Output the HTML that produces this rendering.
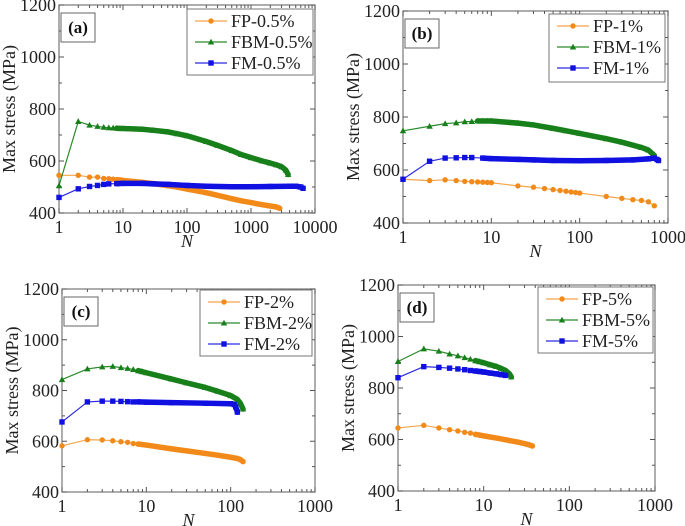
<!DOCTYPE html>
<html><head><meta charset="utf-8"><style>
html,body{margin:0;padding:0;background:#fff;}
svg{display:block;}
svg text{font-family:"Liberation Serif","Times New Roman",serif;}
</style></head><body>
<svg id="chart" width="685" height="526" viewBox="0 0 685 526"></svg>
<script>
// ---- data ----
const aFP_N=[1,2,3,4,5,6,7,8,9,10,20,30,50,70,100,200,300,500,700,1000,1500,2000,2500,2800];
const aFP_V=[545,545,538,538,533,532,530,528,527,525,518,513,505,500,492,478,468,455,447,440,432,427,423,418];
const aFBM_N=[1,2,3,4,5,6,7,8,9,10,20,30,50,70,100,200,300,500,700,1000,1500,2000,2500,3000,3500,3800];
const aFBM_V=[505,752,738,733,730,728,727,726,725,725,722,718,712,705,697,675,660,640,625,613,600,592,585,578,565,548];
const aFM_N=[1,2,3,4,5,6,8,10,20,30,50,100,200,500,1000,2000,4000,5000,6000,6500];
const aFM_V=[460,493,502,506,510,512,513,514,514,512,510,506,503,501,501,502,503,503,500,495];

const bFP_N=[1,2,3,4,5,6,7,8,9,10,20,30,40,50,60,70,80,90,100,200,300,400,500,600,700];
const bFP_V=[565,560,563,560,557,556,555,554,553,552,540,535,530,526,523,520,517,515,513,500,493,488,485,480,465];
const bFBM_N=[1,2,3,4,5,6,7,8,9,10,20,30,50,70,100,200,300,500,600,700];
const bFBM_V=[748,765,775,778,782,783,785,785,785,785,777,770,757,748,738,718,705,685,675,655];
const bFM_N=[1,2,3,4,5,6,8,10,20,30,50,100,200,400,600,700,750,780];
const bFM_V=[565,633,645,646,647,647,645,643,640,638,636,635,636,638,642,645,640,636];

const cFP_N=[1,2,3,4,5,6,7,8,9,10,20,30,50,70,100,120,130,140];
const cFP_V=[582,606,605,602,598,596,591,589,587,585,570,562,552,545,537,532,528,520];
const cFBM_N=[1,2,3,4,5,6,7,8,9,10,20,30,50,70,100,120,130,140];
const cFBM_V=[843,885,893,895,890,887,883,878,874,870,845,830,812,797,780,765,750,727];
const cFM_N=[1,2,3,4,5,6,7,8,10,20,50,100,110,115,120];
const cFM_V=[676,755,758,758,757,756,755,755,754,752,750,748,745,735,715];

const dFP_N=[1,2,3,4,5,6,7,8,9,10,15,20,25,30,35,37];
const dFP_V=[645,655,645,638,633,628,625,620,617,614,604,596,590,584,578,575];
const dFBM_N=[1,2,3,4,5,6,7,8,9,10,12,14,16,18,20,21];
const dFBM_V=[903,952,943,932,925,918,912,906,902,898,890,884,876,868,855,843];
const dFM_N=[1,2,3,4,5,6,7,8,9,10,12,14,16,18];
const dFM_V=[840,883,880,877,874,871,868,866,864,862,858,855,852,849];

const yTicks=[400,600,800,1000,1200];
const xTicksA=[1,10,100,1000,10000];
const xTicksB=[1,10,100,1000];
const namesA=["FP-0.5%","FBM-0.5%","FM-0.5%"];
const namesB=["FP-1%","FBM-1%","FM-1%"];
const namesC=["FP-2%","FBM-2%","FM-2%"];
const namesD=["FP-5%","FBM-5%","FM-5%"];

// ---- drawing ----
const NS="http://www.w3.org/2000/svg";
const svg=document.getElementById('chart');
function mk(tag,attrs,parent){const e=document.createElementNS(NS,tag);for(const k in attrs)e.setAttribute(k,attrs[k]);(parent||svg).appendChild(e);return e;}
const COL={fp:{line:"#f5a54a",mk:"#f28a1a"},fbm:{line:"#2a8a2a",mk:"#18801a"},fm:{line:"#2a2ae0",mk:"#1010e0"}};
const FONT='"Liberation Serif","Times New Roman",serif';

function marker(g,kind,x,y,c){
  let e;
  if(kind==='fp'){e=mk('circle',{cx:x,cy:y,r:2.7,fill:c},g);}
  else if(kind==='fbm'){e=mk('polygon',{points:`${x},${y-3.3} ${x-3.2},${y+2.5} ${x+3.2},${y+2.5}`,fill:c},g);}
  else {e=mk('rect',{x:x-2.7,y:y-2.7,width:5.4,height:5.4,fill:c},g);}
  
  
}
function txt(g,attrs,s,name){
  attrs['font-family']=FONT;
  const t=mk('text',attrs,g);t.textContent=s;
  return t;
}

function panel(p){
  const g=mk('g',{});
  
  
  const decs=Math.log10(p.xmax);
  const X=n=>p.L+(p.R-p.L)*Math.log10(n)/decs;
  const Y=v=>p.B-(p.B-p.T)*(v-400)/800;
  const fr=mk('rect',{x:p.L,y:p.T,width:p.R-p.L,height:p.B-p.T,fill:'none',stroke:'#777','stroke-width':1.2},g);
  
  yTicks.forEach(v=>{
    const y=Y(v);
    mk('line',{x1:p.L,x2:p.L+5,y1:y,y2:y,stroke:'#555'},g);
    mk('line',{x1:p.R,x2:p.R-5,y1:y,y2:y,stroke:'#555'},g);
    txt(g,{x:p.L-3,y:y+6,'text-anchor':'end','font-size':18,fill:'#222'},v,'y-tick-label');
    if(v<1200){const ym=Y(v+100);
      mk('line',{x1:p.L,x2:p.L+3,y1:ym,y2:ym,stroke:'#555'},g);
      mk('line',{x1:p.R,x2:p.R-3,y1:ym,y2:ym,stroke:'#555'},g);}
  });
  p.xt.forEach((n,i)=>{
    const x=X(n);
    mk('line',{x1:x,x2:x,y1:p.B,y2:p.B-5,stroke:'#555'},g);
    mk('line',{x1:x,x2:x,y1:p.T,y2:p.T+5,stroke:'#555'},g);
    txt(g,{x:x,y:p.B+20,'text-anchor':'middle','font-size':18,fill:'#222'},n,'x-tick-label');
    if(i<p.xt.length-1){for(let k=2;k<10;k++){const xm=X(n*k);
      mk('line',{x1:xm,x2:xm,y1:p.B,y2:p.B-3,stroke:'#555'},g);
      mk('line',{x1:xm,x2:xm,y1:p.T,y2:p.T+3,stroke:'#555'},g);}}
  });
  txt(g,{x:(p.L+p.R)/2,y:p.B+34,'text-anchor':'middle','font-size':18,'font-style':'italic',fill:'#222'},'N','x-axis-title');
  const yx=p.L-44,yy=(p.T+p.B)/2;
  txt(g,{x:yx,y:yy,'text-anchor':'middle','font-size':18,fill:'#222',transform:`rotate(-90 ${yx} ${yy})`},'Max stress (MPa)','y-axis-title');
  const lb=mk('rect',{x:p.L+2,y:p.T+8,width:34,height:29,fill:'#fff',stroke:'#666','stroke-width':1},g);
  
  txt(g,{x:p.L+19,y:p.T+28,'text-anchor':'middle','font-size':17,'font-weight':'bold',fill:'#111'},'('+p.id+')','panel-label');
  p.series.forEach(s=>{
    const pts=s.N.map((n,i)=>X(n)+','+Y(s.V[i])).join(' ');
    const pl=mk('polyline',{points:pts,fill:'none',stroke:COL[s.k].line,'stroke-width':1.2},g);
    
    const dn=(s.dn!==undefined)?s.dn:p.dn;
    const dense=s.N.map((n,i)=>[n,s.V[i]]).filter(d=>d[0]>=dn);
    if(dense.length>1){
      const band=mk('polyline',{points:dense.map(d=>X(d[0])+','+Y(d[1])).join(' '),fill:'none',stroke:COL[s.k].mk,'stroke-width':5.5,'stroke-linejoin':'round','stroke-linecap':'round'},g);
      
    }
    s.N.forEach((n,i)=>marker(g,s.k,X(n),Y(s.V[i]),COL[s.k].mk));
  });
  const lg=p.lg;
  const lr=mk('rect',{x:lg.x,y:lg.y,width:lg.w,height:lg.h,fill:'#fff',stroke:'#777','stroke-width':1},g);
  
  ['fp','fbm','fm'].forEach((k,i)=>{
    const y=lg.y+12+i*21;
    mk('line',{x1:lg.x+8,x2:lg.x+40,y1:y,y2:y,stroke:COL[k].line,'stroke-width':1.2},g);
    marker(g,k,lg.x+24,y,COL[k].mk);
    txt(g,{x:lg.x+44,y:y+6,'font-size':18,fill:'#222'},p.names[i],'legend-entry');
  });
}

panel({id:'a',L:59,R:315,T:5,B:213,xmax:10000,xt:xTicksA,names:namesA,dn:8,lg:{x:187,y:9,w:126,h:66},
  series:[{k:'fp',N:aFP_N,V:aFP_V},{k:'fbm',N:aFBM_N,V:aFBM_V},{k:'fm',N:aFM_N,V:aFM_V}]});
panel({id:'b',L:403,R:668,T:11,B:223,xmax:1000,xt:xTicksB,names:namesB,dn:7,lg:{x:549,y:14,w:116,h:68},
  series:[{k:'fp',N:bFP_N,V:bFP_V,dn:100000},{k:'fbm',N:bFBM_N,V:bFBM_V},{k:'fm',N:bFM_N,V:bFM_V}]});
panel({id:'c',L:62,R:315,T:289,B:492,xmax:1000,xt:xTicksB,names:namesC,dn:8,lg:{x:200,y:290,w:112,h:66},
  series:[{k:'fp',N:cFP_N,V:cFP_V},{k:'fbm',N:cFBM_N,V:cFBM_V},{k:'fm',N:cFM_N,V:cFM_V}]});
panel({id:'d',L:398,R:655,T:285,B:491,xmax:1000,xt:xTicksB,names:namesD,dn:8,lg:{x:538,y:287,w:115,h:66},
  series:[{k:'fp',N:dFP_N,V:dFP_V},{k:'fbm',N:dFBM_N,V:dFBM_V},{k:'fm',N:dFM_N,V:dFM_V}]});
</script>
</body></html>
